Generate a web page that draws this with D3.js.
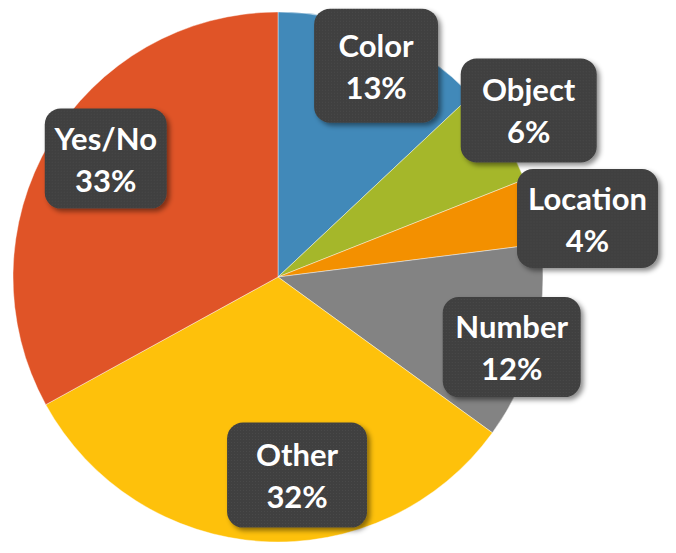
<!DOCTYPE html>
<html><head><meta charset="utf-8">
<script src="https://cdn.jsdelivr.net/npm/d3@7"></script>
<style>html,body{margin:0;padding:0;background:#fff;overflow:hidden}</style>
</head><body>
<svg id="c" width="676" height="553"></svg>
<script>
const categories = ["Color", "Object", "Location", "Number", "Other", "Yes/No"];
const values = [13, 6, 4, 12, 32, 33];
const colors = ["#4189B9", "#A5B72A", "#F39000", "#838383", "#FEC10B", "#E05427"];
// label layout: radial distance and angle nudge (degrees), box sizes
const labelRadius = [233, 301, 315, 244, 199, 209];
const labelNudge = [1.5, -1.2, 3.7, 2.3, -9.1, 3.9];
const boxW = [124, 136, 141, 138, 140, 122];
const boxH = [114, 104, 99, 100, 105, 100];

const svg = d3.select("#c");
const cx = 278, cy = 277, R = 265;

const defs = svg.append("defs");
const f = defs.append("filter").attr("id","sh").attr("x","-20%").attr("y","-20%").attr("width","150%").attr("height","150%");
f.append("feDropShadow").attr("dx",3).attr("dy",3).attr("stdDeviation",2.5).attr("flood-color","#000").attr("flood-opacity",0.45);
const pat = defs.append("pattern").attr("id","tx").attr("width",3).attr("height",3).attr("patternUnits","userSpaceOnUse");
pat.append("rect").attr("width",3).attr("height",3).attr("fill","#404040");
pat.append("rect").attr("width",1).attr("height",1).attr("fill","#4a4a4a");

const pie = d3.pie().sort(null).value(d => d)(values);
const arc = d3.arc().innerRadius(0).outerRadius(R);
const g = svg.append("g").attr("transform", `translate(${cx},${cy})`);
g.selectAll("path").data(pie).join("path")
  .attr("d", arc)
  .attr("fill", (d,i) => colors[i])
  .attr("stroke", "#fff").attr("stroke-width", 0.6).attr("stroke-opacity", 0.7);

const lab = g.selectAll("g.lab").data(pie).join("g").attr("class","lab")
  .attr("transform", (d,i) => {
    const a = (d.startAngle + d.endAngle)/2 + labelNudge[i]*Math.PI/180;
    const r = labelRadius[i];
    return `translate(${r*Math.sin(a)},${-r*Math.cos(a)})`;
  });
lab.append("rect")
  .attr("x",(d,i)=>-boxW[i]/2).attr("y",(d,i)=>-boxH[i]/2)
  .attr("width",(d,i)=>boxW[i]).attr("height",(d,i)=>boxH[i])
  .attr("rx",16).attr("ry",16)
  .attr("fill","url(#tx)").attr("filter","url(#sh)");
const t = lab.append("text").attr("text-anchor","middle")
  .attr("font-family","Lato, 'Open Sans', sans-serif").attr("font-weight","bold")
  .attr("font-size",31).attr("fill","#fff");
t.append("tspan").attr("x",0).attr("y",-9).text((d,i)=>categories[i]);
t.append("tspan").attr("x",0).attr("y",33).text((d,i)=>values[i]+"%");
</script>
</body></html>
